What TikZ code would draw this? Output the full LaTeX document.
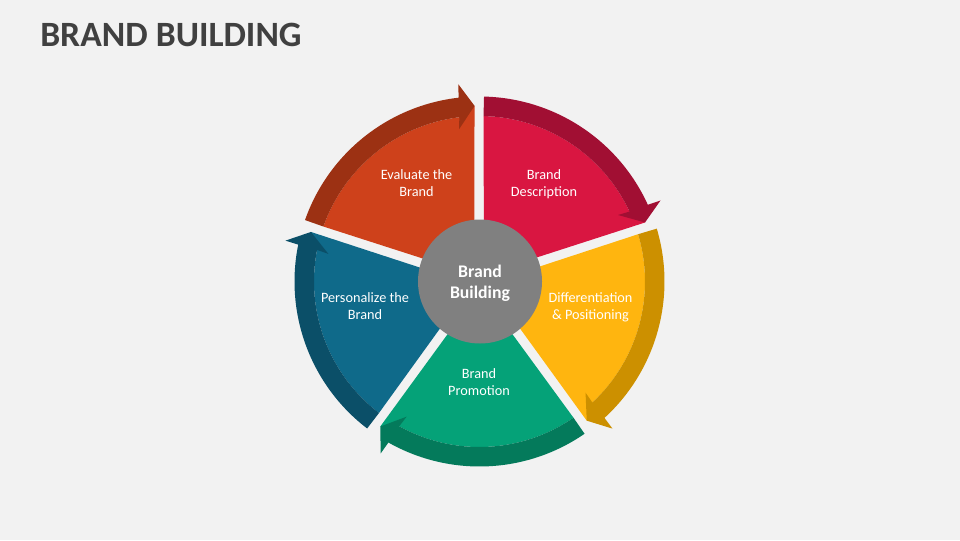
\documentclass[tikz,border=0pt]{standalone}
\usepackage{fontspec}
\setmainfont{Carlito}
\usetikzlibrary{positioning}
\definecolor{pagegray}{HTML}{F2F2F2}
\definecolor{hubgray}{HTML}{808080}
\definecolor{titlegray}{HTML}{404040}
\definecolor{redfill}{HTML}{D91641}
\definecolor{reddark}{HTML}{A10F33}
\definecolor{goldfill}{HTML}{FFB50F}
\definecolor{golddark}{HTML}{CC9000}
\definecolor{greenfill}{HTML}{05A278}
\definecolor{greendark}{HTML}{047A5B}
\definecolor{bluefill}{HTML}{0F6A8A}
\definecolor{bluedark}{HTML}{0B4F68}
\definecolor{rustfill}{HTML}{CE411B}
\definecolor{rustdark}{HTML}{9C3113}
\tikzstyle{seglabel}=[align=center,text=white,font=\fontsize{10.7}{12.7}\selectfont,inner sep=0pt]
\tikzstyle{hub}=[circle,fill=hubgray,minimum size=93pt,inner sep=0pt]
\tikzstyle{hublabel}=[align=center,text=white,inner sep=0pt,font=\fontsize{13.3}{16}\selectfont\bfseries]
\begin{document}
\begin{tikzpicture}[x=0.75pt,y=0.75pt]
\fill[pagegray] (0,0) rectangle (960,540);
\useasboundingbox (0,0) rectangle (960,540);

%segments
  \foreach \rot/\light/\dark in {0/redfill/reddark, -72/goldfill/golddark, -144/greenfill/greendark, -216/bluefill/bluedark, -288/rustfill/rustdark}
  {
    \begin{scope}[shift={(479.5,258.5)},rotate=\rot]
      \fill[\light] (4.5,7) -- (88.6:165.5) arc[start angle=88.6, end angle=25, radius=165.5] -- (165.5,59) -- cycle;
      \fill[\dark] (88.6:185) arc[start angle=88.6, end angle=24.5, radius=185] -- (181,81) -- (165.5,59) -- (138.5,66.5) -- (25:165.5) arc[start angle=25, end angle=88.6, radius=165.5] -- cycle;
    \end{scope}
  }

%labels
  \node[hub] (hub) at (480,258.5) {};
  \node[hublabel] (hubtext) at (480,256.5) {Brand\\Building};
  \foreach \pos/\name/\label in {{(544,356)/descr/Brand\\Description}, {(590.5,232.5)/posit/Differentiation\\\& Positioning}, {(479,157.5)/promo/Brand\\Promotion}, {(365,234)/perso/Personalize the\\Brand}, {(416.5,356.5)/evalu/Evaluate the\\Brand}}
    \node[seglabel] (\name) at \pos {\label};

  \node[anchor=base west,inner sep=0pt,text=titlegray,font=\fontsize{26.7}{30}\selectfont\bfseries] (title) at (40,493.5) {BRAND BUILDING};
\end{tikzpicture}
\end{document}
